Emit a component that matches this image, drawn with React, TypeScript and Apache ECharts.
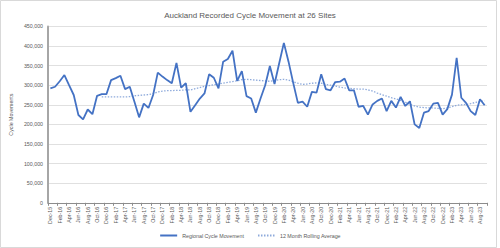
import React, { useEffect, useRef } from "react";
import * as echarts from "echarts";

const MONTHS = ["Jan", "Feb", "Mar", "Apr", "May", "Jun", "Jul", "Aug", "Sep", "Oct", "Nov", "Dec"];

// Dec-15 .. Sep-23 (94 months)
const categories: string[] = (() => {
  const out: string[] = [];
  let y = 2015;
  let m = 11;
  for (let i = 0; i < 94; i++) {
    out.push(`${MONTHS[m]}-${String(y % 100).padStart(2, "0")}`);
    m++;
    if (m === 12) { m = 0; y++; }
  }
  return out;
})();

const movement: number[] = [
  292000, 296000, 310000, 326000, 300000, 275000, 224000, 213000, 238000, 226000,
  273000, 277000, 277000, 313000, 318000, 324000, 290000, 296000, 258000, 218000,
  253000, 242000, 275000, 332000, 322000, 313000, 305000, 357000, 294000, 305000,
  232000, 249000, 266000, 279000, 328000, 319000, 292000, 360000, 367000, 388000,
  311000, 336000, 272000, 266000, 230000, 266000, 300000, 349000, 303000, 356000,
  408000, 360000, 306000, 255000, 258000, 245000, 283000, 281000, 328000, 290000,
  287000, 308000, 309000, 317000, 287000, 287000, 245000, 247000, 225000, 251000,
  260000, 266000, 234000, 260000, 243000, 270000, 247000, 259000, 200000, 191000,
  230000, 234000, 253000, 255000, 225000, 239000, 276000, 370000, 268000, 255000,
  234000, 224000, 264000, 249000,
];

const rollingAvg: (number | null)[] = [
  null, null, null, null, null, null, null, null, null, null, null,
  270000, 270000, 270000, 270000, 270000, 270000, 271000, 273000, 274000,
  275000, 276000, 278000, 283000, 285000, 286000, 286000, 287000, 287000, 288000,
  288000, 291000, 294000, 297000, 299000, 301000, 303000, 305000, 307000, 309000,
  311000, 314000, 315000, 314000, 313000, 312000, 311000, 310000, 312000, 314000,
  315000, 313000, 309000, 305000, 302000, 303000, 305000, 306000, 305000, 302000,
  300000, 298000, 295000, 293000, 292000, 291000, 290000, 290000, 288000, 285000,
  280000, 276000, 272000, 268000, 265000, 261000, 257000, 251000, 247000, 244000,
  243000, 242000, 242000, 241000, 240000, 242000, 245000, 249000, 250000, 251000,
  253000, 256000, 259000, 260000,
];

const FONT = "'Liberation Sans', Arial, sans-serif";
const TXT = "#595959";

export default function App() {
  const ref = useRef<HTMLDivElement>(null);
  useEffect(() => {
    if (!ref.current) return;
    const chart = echarts.init(ref.current, undefined, { renderer: "svg" });
    chart.setOption({
      animation: false,
      backgroundColor: "#ffffff",
      textStyle: { fontFamily: FONT },
      title: {
        text: "Auckland Recorded Cycle Movement at 26 Sites",
        left: "center",
        top: 6,
        textStyle: { fontFamily: FONT, fontSize: 8, fontWeight: "normal", color: TXT },
      },
      graphic: [
        {
          type: "rect",
          shape: { x: 0.5, y: 0.5, width: 496, height: 247 },
          style: { fill: "none", stroke: "#d9d9d9", lineWidth: 1 },
          silent: true,
        },
      ],
      grid: { left: 47, right: 13, top: 26.4, bottom: 45.2, containLabel: false },
      legend: {
        bottom: 5,
        left: "center",
        itemWidth: 17,
        itemHeight: 6,
        itemGap: 13,
        itemStyle: { opacity: 0 },
        textStyle: { fontFamily: FONT, fontSize: 5.3, color: TXT },
        data: ["Regional Cycle Movement", "12 Month Rolling Average"],
      },
      xAxis: {
        type: "category",
        data: categories,
        boundaryGap: true,
        axisLine: { show: true, lineStyle: { color: "#8c8c8c", width: 1 } },
        axisTick: { show: true, interval: 1, length: 3, lineStyle: { color: "#8c8c8c" } },
        axisLabel: {
          interval: 1,
          rotate: 90,
          fontFamily: FONT,
          fontSize: 5.3,
          color: TXT,
          margin: 4,
        },
        splitLine: { show: false },
      },
      yAxis: {
        type: "value",
        min: 0,
        max: 450000,
        interval: 50000,
        name: "Cycle Movements",
        nameLocation: "middle",
        nameGap: 29,
        nameTextStyle: { fontFamily: FONT, fontSize: 5.3, color: TXT },
        axisLine: { show: true, lineStyle: { color: "#a6a6a6", width: 2 } },
        axisTick: { show: false },
        axisLabel: {
          fontFamily: FONT,
          fontSize: 5.3,
          color: TXT,
          margin: 5,
          formatter: (v: number) => v.toLocaleString("en-US"),
        },
        splitLine: { show: true, lineStyle: { color: "#e0e0e0", width: 1 } },
      },
      series: [
        {
          name: "Regional Cycle Movement",
          type: "line",
          data: movement,
          symbol: "none",
          showSymbol: false,
          lineStyle: { color: "#4472c4", width: 1.8 },
          itemStyle: { color: "#4472c4" },
          z: 3,
        },
        {
          name: "12 Month Rolling Average",
          type: "line",
          data: rollingAvg,
          symbol: "none",
          showSymbol: false,
          lineStyle: { color: "#8eaadb", width: 1.3, type: [1.5, 1.5] },
          itemStyle: { color: "#8eaadb" },
          z: 2,
        },
      ],
    });
    return () => chart.dispose();
  }, []);
  return (
    <div
      ref={ref}
      style={{ position: "fixed", left: 0, top: 0, width: 500, height: 248 }}
    />
  );
}
